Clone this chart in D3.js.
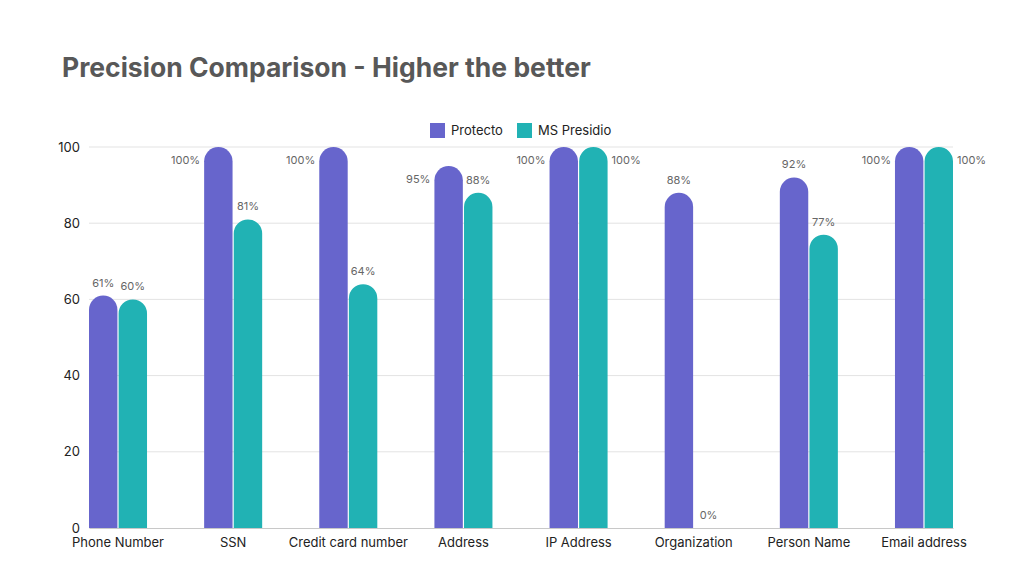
<!DOCTYPE html>
<meta charset="utf-8">
<script src="https://d3js.org/d3.v7.min.js"></script>
<style>
  body { margin: 0; background: #fff; }
  text { font-family: Inter, "Noto Sans", sans-serif; }
  .title { fill: #585858; font-size: 26.5px; font-weight: 700; }
  .tick text { fill: #222; font-size: 13px; }
  .val { fill: #666; font-size: 11px; }
  .legend text { fill: #222; font-size: 13px; }
</style>
<div id="chart"></div>
<script>
// categories and values (percent)
const categories = ["Phone Number", "SSN", "Credit card number", "Address", "IP Address", "Organization", "Person Name", "Email address"];
const series = ["Protecto", "MS Presidio"];
const protecto = [61, 100, 100, 95, 100, 88, 92, 100];
const presidio = [60, 81, 64, 88, 100, 0, 77, 100];
const yTicks = [0, 20, 40, 60, 80, 100];
const colors = ["#6765cc", "#21b2b4"];

const W = 1024, H = 576;
const margin = {top: 147, right: 71, bottom: 48, left: 89};
const width = W - margin.left - margin.right,
      height = H - margin.top - margin.bottom;

const svg = d3.select("#chart").append("svg")
    .attr("width", W).attr("height", H);

svg.append("text").attr("class", "title")
    .attr("x", 62).attr("y", 77)
    .text("Precision Comparison - Higher the better");

const g = svg.append("g")
    .attr("transform", `translate(${margin.left},${margin.top})`);

const x = d3.scaleBand().domain(categories).range([0, width])
    .paddingInner(0.496).paddingOuter(0);
const xs = d3.scaleBand().domain(series).range([0, x.bandwidth()]).paddingInner(0.04);
const y = d3.scaleLinear().domain([0, 100]).range([height, 0]);

// gridlines
g.selectAll(".grid").data(yTicks.filter(d => d > 0)).enter().append("line")
    .attr("x1", 0).attr("x2", width)
    .attr("y1", d => y(d)).attr("y2", d => y(d))
    .attr("stroke", "#e3e3e3").attr("stroke-width", 1);

// y axis
const yAxis = g.append("g").call(d3.axisLeft(y).tickValues(yTicks).tickSize(0).tickPadding(9));
yAxis.select(".domain").remove();

// bars
const rows = categories.map((c, i) => ({cat: c, vals: [protecto[i], presidio[i]]}));
const groups = g.selectAll(".grp").data(rows).enter().append("g")
    .attr("transform", d => `translate(${x(d.cat)},0)`);

function barPath(x0, w, top, bottom) {
  const r = Math.min(w / 2, bottom - top);
  if (bottom - top <= 0) return "";
  return `M${x0},${bottom}V${top + r}A${r},${r} 0 0 1 ${x0 + w},${top + r}V${bottom}Z`;
}

groups.each(function(d) {
  const gg = d3.select(this);
  d.vals.forEach((v, j) => {
    const bx = xs(series[j]), bw = xs.bandwidth();
    gg.append("path")
      .attr("d", barPath(bx, bw, y(v), y(0)))
      .attr("fill", colors[j]);
    const lab = gg.append("text").attr("class", "val").text(v + "%")
      .attr("dominant-baseline", "middle");
    if (v > 93) {
      if (j === 0) lab.attr("x", bx - 4).attr("text-anchor", "end");
      else lab.attr("x", bx + bw + 4).attr("text-anchor", "start");
      lab.attr("y", y(v) + 14);
    } else {
      lab.attr("x", bx + bw / 2).attr("text-anchor", "middle").attr("y", y(v) - 12);
    }
  });
});

// x axis
const xAxis = g.append("g").attr("transform", `translate(0,${height})`)
    .call(d3.axisBottom(x).tickSize(0).tickPadding(10));
xAxis.select(".domain").attr("stroke", "#c8c8c8");

// legend
const legend = svg.append("g").attr("class", "legend");
const lx = [430, 517];
series.forEach((s, i) => {
  legend.append("rect").attr("x", lx[i]).attr("y", 123).attr("width", 15).attr("height", 15).attr("fill", colors[i]);
  legend.append("text").attr("x", lx[i] + 21).attr("y", 131).attr("dominant-baseline", "middle").text(s);
});
</script>
